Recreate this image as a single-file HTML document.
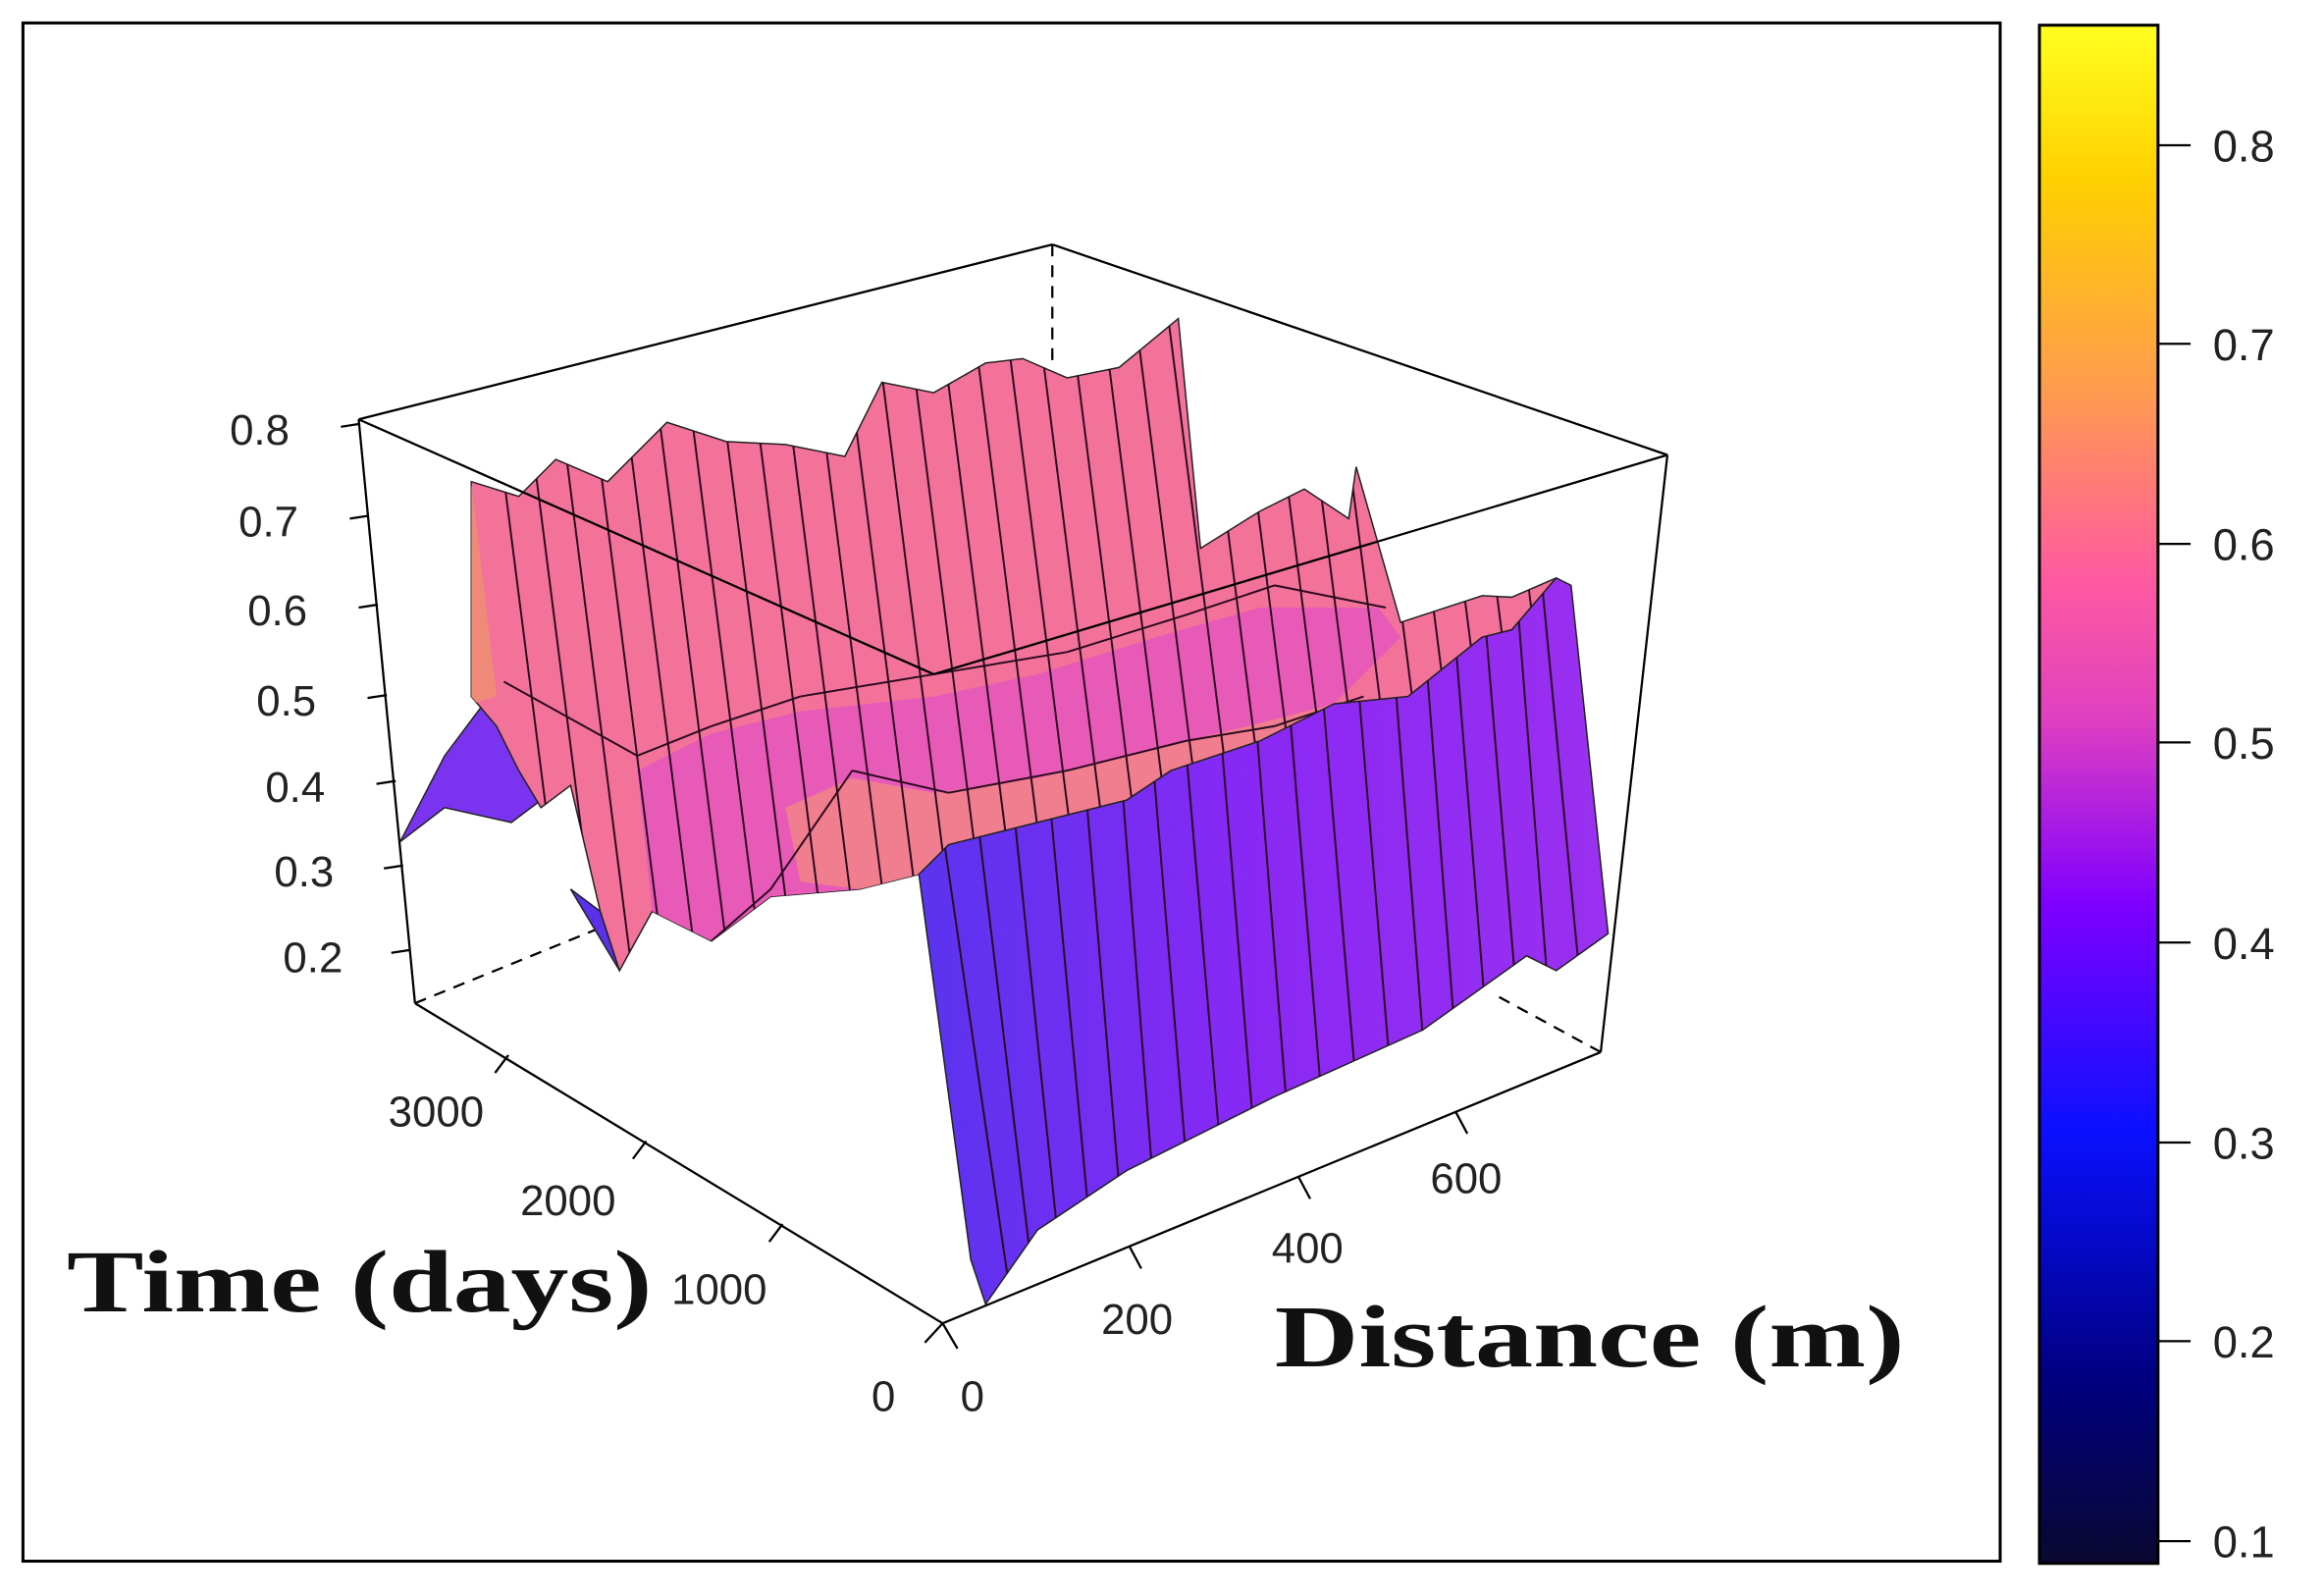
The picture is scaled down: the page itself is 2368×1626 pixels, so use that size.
<!DOCTYPE html>
<html><head><meta charset="utf-8"><style>
html,body{margin:0;padding:0;background:#fff;}
svg{display:block;}
</style></head><body>
<svg id="s" width="2368" height="1626" viewBox="0 0 1568 1077" preserveAspectRatio="none" xmlns="http://www.w3.org/2000/svg" font-family="Liberation Sans, sans-serif">
<defs>
<linearGradient id="cb" x1="0" y1="1" x2="0" y2="0">
<stop offset="0" stop-color="#0a0830"/>
<stop offset="0.12" stop-color="#000080"/>
<stop offset="0.28" stop-color="#0a10ff"/>
<stop offset="0.43" stop-color="#8000ff"/>
<stop offset="0.55" stop-color="#e040c0"/>
<stop offset="0.64" stop-color="#ff5aa0"/>
<stop offset="0.76" stop-color="#ff9a50"/>
<stop offset="0.9" stop-color="#ffd000"/>
<stop offset="1" stop-color="#ffff20"/>
</linearGradient>
<linearGradient id="wall" x1="0" y1="0" x2="1" y2="0">
<stop offset="0" stop-color="#5a34f0"/>
<stop offset="0.5" stop-color="#8a28f4"/>
<stop offset="1" stop-color="#9a30f0"/>
</linearGradient>
<clipPath id="pc"><polygon id="pcp" points="0,0"/></clipPath>
</defs>
<rect x="0" y="0" width="1568" height="1077" fill="#fff"/>
<rect x="15.5" y="15.5" width="1334" height="1038" fill="none" stroke="#000" stroke-width="2"/>
<rect x="1376" y="17" width="80" height="1038" fill="url(#cb)" stroke="#000" stroke-width="2"/>
<g stroke="#000" stroke-width="1.5">
<line x1="1456" y1="98" x2="1478" y2="98"/><line x1="1456" y1="232" x2="1478" y2="232"/>
<line x1="1456" y1="367" x2="1478" y2="367"/><line x1="1456" y1="501" x2="1478" y2="501"/>
<line x1="1456" y1="636" x2="1478" y2="636"/><line x1="1456" y1="771" x2="1478" y2="771"/>
<line x1="1456" y1="905" x2="1478" y2="905"/><line x1="1456" y1="1040" x2="1478" y2="1040"/>
</g>
<g font-size="30" fill="#222">
<text x="1493" y="109">0.8</text><text x="1493" y="243">0.7</text><text x="1493" y="378">0.6</text>
<text x="1493" y="512">0.5</text><text x="1493" y="647">0.4</text><text x="1493" y="782">0.3</text>
<text x="1493" y="916">0.2</text><text x="1493" y="1051">0.1</text>
</g>
<g stroke="#000" stroke-width="1.5" fill="none">
<line x1="242" y1="283" x2="710" y2="165"/>
<line x1="710" y1="165" x2="1125" y2="307"/>
<line x1="710" y1="165" x2="710" y2="245" stroke-dasharray="8,6"/>
<line x1="280" y1="677" x2="420" y2="620" stroke-dasharray="8,6"/>
<line x1="1080" y1="710" x2="1010" y2="672" stroke-dasharray="8,6"/>
<line x1="242" y1="283" x2="280" y2="677"/>
<line x1="1125" y1="307" x2="1080" y2="710"/>
<line x1="280" y1="677" x2="636" y2="893"/>
<line x1="636" y1="893" x2="1080" y2="710"/>
<line x1="630" y1="455" x2="630" y2="590"/>
</g>
<g id="surf"></g>
<g stroke="#000" stroke-width="1.5" fill="none">
<line x1="242" y1="283" x2="630" y2="455"/>
<line x1="1125" y1="307" x2="630" y2="455"/>
</g>
<g stroke="#000" stroke-width="1.5">
<line x1="230" y1="288" x2="243" y2="286"/><line x1="236" y1="350" x2="249" y2="348"/>
<line x1="242" y1="410" x2="255" y2="408"/><line x1="248" y1="471" x2="261" y2="469"/>
<line x1="254" y1="529" x2="267" y2="527"/><line x1="259" y1="586" x2="272" y2="584"/>
<line x1="264" y1="643" x2="277" y2="641"/>
<line x1="343" y1="712" x2="334" y2="724"/><line x1="436" y1="770" x2="427" y2="782"/>
<line x1="528" y1="826" x2="519" y2="838"/><line x1="636" y1="893" x2="624" y2="906"/>
<line x1="636" y1="893" x2="646" y2="910"/><line x1="762" y1="841" x2="770" y2="856"/>
<line x1="876" y1="794" x2="884" y2="809"/><line x1="982" y1="750" x2="990" y2="765"/>
</g>
<g font-size="29" fill="#222">
<text x="155" y="300">0.8</text><text x="161" y="362">0.7</text><text x="167" y="422">0.6</text>
<text x="173" y="483">0.5</text><text x="179" y="541">0.4</text><text x="185" y="598">0.3</text>
<text x="191" y="656">0.2</text>
<text x="262" y="760">3000</text><text x="351" y="820">2000</text><text x="453" y="880">1000</text>
<text x="588" y="952">0</text><text x="648" y="952">0</text>
<text x="743" y="900">200</text><text x="858" y="852">400</text><text x="965" y="805">600</text>
</g>
<g style="font-family:'Liberation Serif',serif;font-weight:bold" font-size="60" fill="#111">
<text x="45" y="885" textLength="395" lengthAdjust="spacingAndGlyphs">Time (days)</text>
<text x="860" y="922" textLength="425" lengthAdjust="spacingAndGlyphs">Distance (m)</text>
</g>
</svg>
<script>
(function(){
var NS="http://www.w3.org/2000/svg",g=document.getElementById("surf");
function ps(pts){return pts.map(function(a){return a.join(",")}).join(" ");}
function poly(pts,fill,parent,sw){var p=document.createElementNS(NS,"polygon");p.setAttribute("points",ps(pts));p.setAttribute("fill",fill);p.setAttribute("stroke","#222");p.setAttribute("stroke-width",sw||"1");(parent||g).appendChild(p);return p;}
function line(a,b,parent){var l=document.createElementNS(NS,"line");l.setAttribute("x1",a[0]);l.setAttribute("y1",a[1]);l.setAttribute("x2",b[0]);l.setAttribute("y2",b[1]);l.setAttribute("stroke","#2a0a20");l.setAttribute("stroke-width","1.3");(parent||g).appendChild(l);}
poly([[270,568],[300,510],[330,470],[350,500],[365,540],[345,555],[300,545]],"#7a34f0");
poly([[385,600],[405,615],[418,655],[400,625]],"#5a30e8");
var tp=[[318,325],[350,335],[375,310],[410,325],[450,285],[490,298],[530,300],[570,308],[595,258],[630,265],[665,245],[690,242],[720,255],[755,248],[795,215],[810,370],[850,345],[880,330],[910,350],[915,315],[945,420],[1000,402],[1020,403],[1050,390]];
var bt=[[318,470],[335,490],[350,520],[365,545],[385,530],[405,615],[418,655],[440,615],[480,635],[520,605],[580,600],[620,590],[700,555],[760,540],[790,520],[850,500],[900,475],[950,470],[1000,430],[1020,425],[1050,390]];
var pink=tp.concat(bt.slice().reverse());
document.getElementById("pcp").setAttribute("points",ps(pink));
poly(pink,"#f3729a");
var cg=document.createElementNS(NS,"g");cg.setAttribute("clip-path","url(#pc)");g.appendChild(cg);
poly([[300,480],[318,325],[335,470]],"#f08a78",cg,"0");
poly([[430,520],[480,495],[540,480],[630,470],[700,455],[780,430],[850,410],[930,410],[945,430],[900,475],[850,500],[790,520],[760,540],[700,555],[620,590],[580,600],[520,605],[480,635],[440,615]],"#e85ab8",cg,"0");
poly([[530,545],[575,525],[630,535],[700,525],[780,505],[850,488],[900,475],[850,500],[790,520],[760,540],[700,555],[620,590],[580,600],[540,595]],"#f07e8e",cg,"0");
// near-vertical strip lines
for(var x=318;x<=1050;x+=22){line([x,150],[x+70,700],cg);}
// cross ridge lines
var r1=[[340,460],[430,510],[480,490],[540,470],[630,455],[720,440],[800,415],[860,395],[935,410]];
var r2=[[480,635],[520,600],[575,520],[640,535],[720,520],[800,500],[860,490],[920,470]];
for(var i=1;i<r1.length;i++)line(r1[i-1],r1[i],cg);
for(var j=1;j<r2.length;j++)line(r2[j-1],r2[j],cg);
var wt=[[620,590],[640,570],[700,555],[760,540],[790,520],[850,500],[900,475],[950,470],[1000,430],[1020,425],[1050,390],[1060,395]];
var wb=[[665,880],[700,830],[760,790],[860,740],[960,695],[1030,645],[1050,655],[1085,630]];
poly(wt.concat(wb.slice().reverse()).concat([[655,850]]),"url(#wall)");
function interp(pl,t){var L=[0],i;for(i=1;i<pl.length;i++)L.push(L[i-1]+Math.hypot(pl[i][0]-pl[i-1][0],pl[i][1]-pl[i-1][1]));var d=t*L[L.length-1];for(i=1;i<pl.length;i++)if(L[i]>=d){var f=(d-L[i-1])/(L[i]-L[i-1]||1);return[pl[i-1][0]+f*(pl[i][0]-pl[i-1][0]),pl[i-1][1]+f*(pl[i][1]-pl[i-1][1])];}return pl[pl.length-1];}
for(var k=1;k<20;k++){var t=k/20;line(interp(wt,t),interp(wb,t));}
})();
</script>
</body></html>
